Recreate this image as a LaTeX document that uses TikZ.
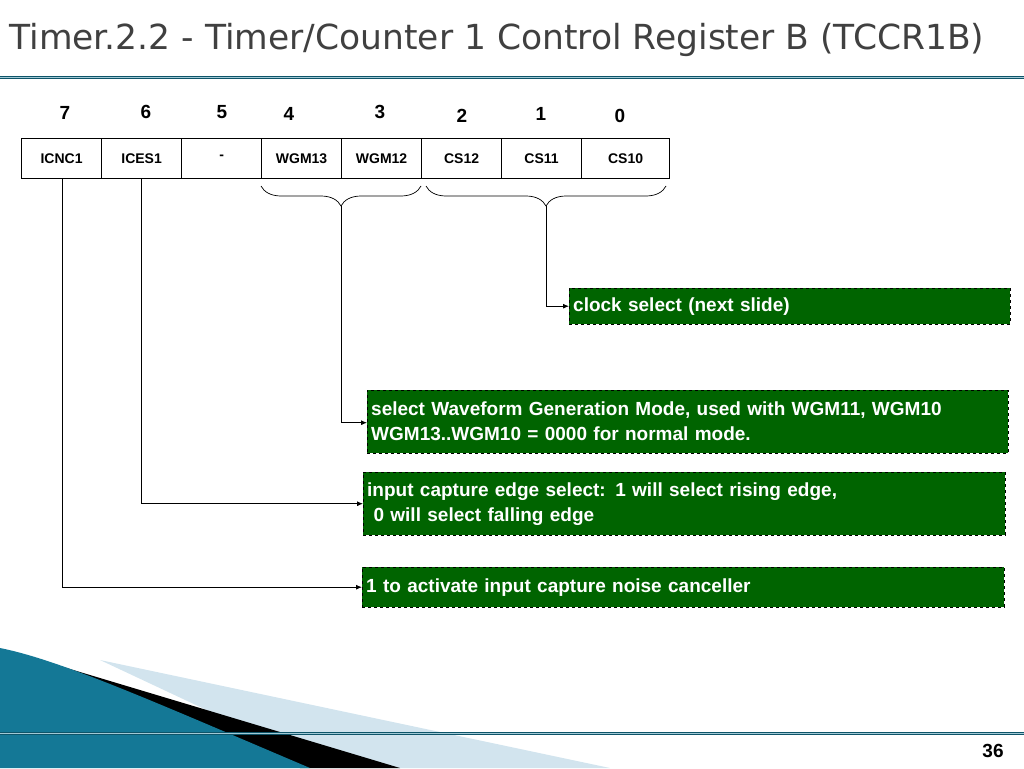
\documentclass[tikz,border=0pt]{standalone}
\usepackage{fontspec}
\setmainfont{Liberation Sans}
\newfontfamily\titlefont{DejaVu Sans}
\usetikzlibrary{decorations.pathreplacing,arrows.meta}
\definecolor{teal1}{RGB}{20,120,150}
\definecolor{lightb}{RGB}{210,228,238}
\definecolor{boxg}{RGB}{0,100,0}
\begin{document}
\begin{tikzpicture}[x=1pt,y=-1pt,
 cell/.style={draw,line width=1.2pt,minimum height=40pt,inner sep=0pt,font=\bfseries\fontsize{14}{14}\selectfont,anchor=north west},
 bit/.style={font=\bfseries\fontsize{19}{19}\selectfont},
 gbox/.style={draw=black,dashed,fill=boxg,text=white,font=\bfseries\fontsize{19}{25}\selectfont,anchor=north west,align=left,inner xsep=4pt},
 conn/.style={-{Latex[length=6pt,width=5pt]},line width=0.8pt}]
\useasboundingbox (0,0) rectangle (1024,768);
% bottom decoration
\fill[lightb] (100,660) -- (610,768) -- (330,768) -- cycle;
\fill[black] (40,660) -- (400,768) -- (300,768) -- cycle;
\fill[teal1] (0,648) .. controls (60,660) and (150,700) .. (310,768) -- (0,768) -- cycle;
\draw[teal1!70!black,line width=3pt] (0,733) -- (1024,733);
\draw[teal1!40,line width=1pt] (0,733) -- (1024,733);
\draw[teal1!70!black,line width=3pt] (0,77) -- (1024,77);
\draw[teal1!40,line width=1pt] (0,77) -- (1024,77);
\node[anchor=west,text=black!75,font=\titlefont\fontsize{34.5}{34.5}\selectfont] (title) at (6,40) {Timer.2.2 - Timer/Counter 1 Control Register B (TCCR1B)};
\node[font=\bfseries\fontsize{19}{19}\selectfont] (pg) at (993,751) {36};
% register
\node[cell,minimum width=80pt] (b7) at (21,138) {ICNC1};
\node[cell,minimum width=80pt] (b6) at (101,138) {ICES1};
\node[cell,minimum width=80pt] (b5) at (181,138) {\raisebox{3pt}{-}};
\node[cell,minimum width=80pt] (b4) at (261,138) {WGM13};
\node[cell,minimum width=80pt] (b3) at (341,138) {WGM12};
\node[cell,minimum width=80pt] (b2) at (421,138) {CS12};
\node[cell,minimum width=80pt] (b1) at (501,138) {CS11};
\node[cell,minimum width=88pt] (b0) at (581,138) {CS10};
\node[bit] (n7) at (65,113) {7};
\node[bit] (n6) at (146,112) {6};
\node[bit] (n5) at (222,112) {5};
\node[bit] (n4) at (289,114) {4};
\node[bit] (n3) at (380,112) {3};
\node[bit] (n2) at (462,116) {2};
\node[bit] (n1) at (541,114) {1};
\node[bit] (n0) at (620,116) {0};
% braces
\draw[decorate,decoration={brace,mirror,amplitude=20pt},line width=0.7pt] (261,186) -- (421,186);
\draw[decorate,decoration={brace,mirror,amplitude=20pt},line width=0.7pt] (426,186) -- (666,186);
\coordinate (t1) at (341,206);
\coordinate (t2) at (546,206);
% boxes
\node[gbox,text width=433pt,minimum height=36pt] (c) at (569,288) {clock select (next slide)};
\node[gbox,text width=633pt,minimum height=63pt] (w) at (367,390) {select Waveform Generation Mode, used with WGM11, WGM10\\WGM13..WGM10 = 0000 for normal mode.};
\node[gbox,text width=634pt,minimum height=63pt] (e) at (363,472) {input capture edge select: 1 will select rising edge,\\\ 0 will select falling edge};
\node[gbox,text width=634pt,minimum height=40pt] (n) at (362,567) {1 to activate input capture noise canceller};
% connectors
\draw[conn] (t2) |- (c.west);
\draw[conn] (t1) |- ([yshift=-1pt]w.west);
\draw[conn] (b6.south) |- (e.west);
\draw[conn] ([xshift=1pt]b7.south) |- (n.west);
\end{tikzpicture}
\end{document}
